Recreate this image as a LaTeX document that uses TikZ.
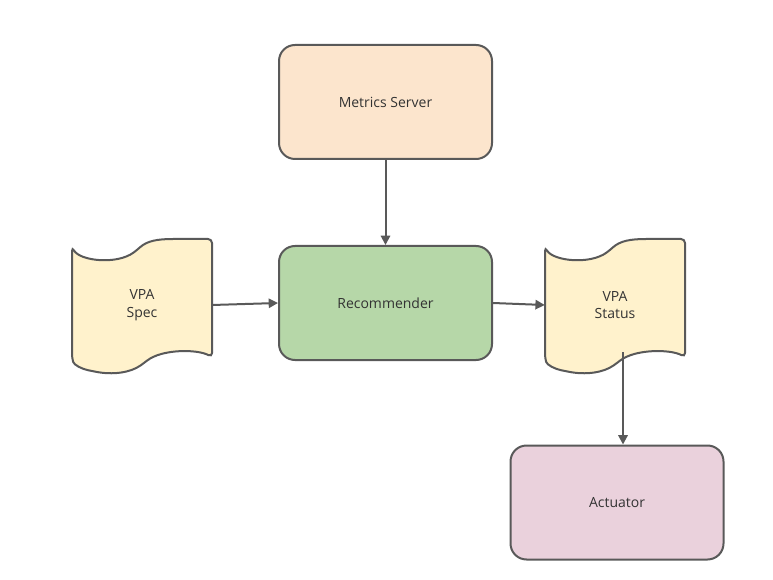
\documentclass[tikz,border=0pt]{standalone}
\usepackage{fontspec}
\setmainfont{Open Sans}
\usetikzlibrary{arrows.meta}
\definecolor{edge}{HTML}{595959}
\definecolor{peach}{HTML}{FCE5CD}
\definecolor{greenf}{HTML}{B6D7A8}
\definecolor{yell}{HTML}{FFF2CC}
\definecolor{pink}{HTML}{EAD1DC}
\tikzset{
  box/.style={draw=edge,line width=1.5pt,rounded corners=12pt,minimum width=213*0.75pt,minimum height=114*0.75pt,text=black!80,font=\fontsize{10.5}{13}\selectfont},
  docpath/.style={draw=edge,fill=yell,line width=1.5pt,rounded corners=3pt},
  doclabel/.style={minimum width=140*0.75pt,minimum height=110*0.75pt,align=center,text=black!80,font=\fontsize{10.5}{13}\selectfont},
  conn/.style={draw=edge,line width=1.5pt,-{Triangle[length=7pt,width=7pt]}},
  pics/docshape/.style={code={
    \path[docpath] (-70,-58) .. controls (-62,-44) and (-25,-40) .. (-5,-55)
      .. controls (5,-64) and (15,-66) .. (35,-66) -- (70,-66) -- (70,52)
      .. controls (55,44) and (20,44) .. (2,58)
      .. controls (-12,68) and (-30,70) .. (-50,66)
      .. controls (-60,64) and (-68,60) .. (-70,53) -- cycle;
  }}
}
\begin{document}
\begin{tikzpicture}[x=0.75pt,y=-0.75pt]
\useasboundingbox (0,0) rectangle (773,580);
\node[box,fill=peach] (ms) at (385.5,102) {Metrics Server};
\node[box,fill=greenf] (rec) at (385.5,303) {Recommender};
\node[box,fill=pink] (act) at (617,502.5) {Actuator};
\pic at (142,305) {docshape};
\pic at (615,305) {docshape};
\node[doclabel] (spec) at (142,305) {VPA\\Spec};
\node[doclabel] (status) at (615,305) {VPA\\Status};
\coordinate (sb) at (623,352);
\draw[conn] (ms) -- (rec);
\draw[conn] (spec.east) -- (rec.west);
\draw[conn] (rec.east) -- (status.west);
\draw[conn] (sb) -- (sb |- act.north);
\end{tikzpicture}
\end{document}
